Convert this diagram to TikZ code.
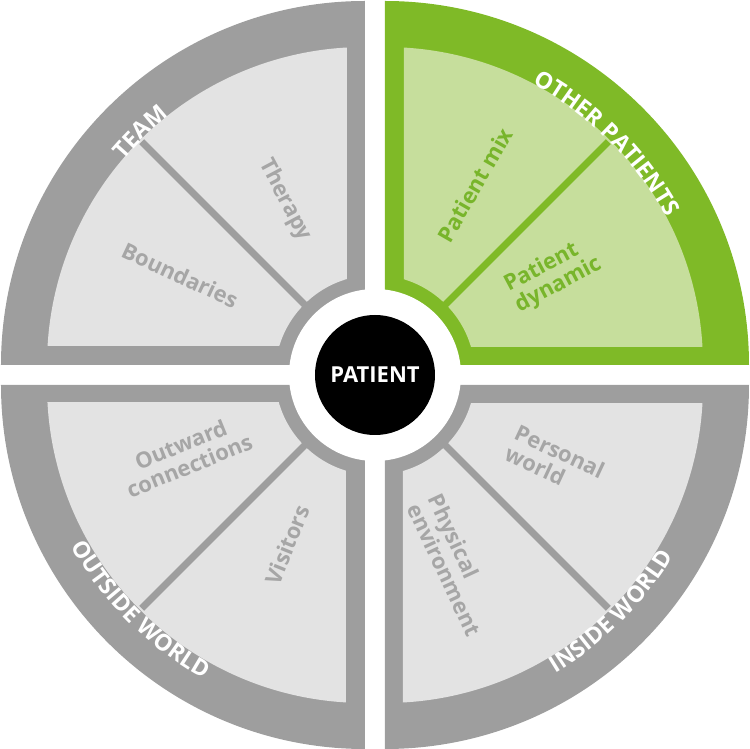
\documentclass[tikz,border=0pt]{standalone}
\usepackage{fontspec}
\setmainfont{Open Sans}
\usetikzlibrary{decorations.text}
\definecolor{gband}{HTML}{9E9E9E}
\definecolor{glight}{HTML}{E3E3E3}
\definecolor{gtext}{HTML}{A6A6A6}
\definecolor{vband}{HTML}{7FBA27}
\definecolor{vlight}{HTML}{C6DE9C}
\definecolor{vtext}{HTML}{78B52B}
\tikzset{
  inlabel/.style={font=\fontsize{22}{23}\selectfont\bfseries, align=center, inner sep=0pt},
  arclabel/.style={decorate, decoration={text along path, text align=center, text color=white,
     text={|\fontsize{23}{23}\selectfont\bfseries|#1}}}
}
\newcommand{\quadrant}[3]{%
  \begin{scope}[rotate=#1]
    \fill[#2] (10,10) -- (10,374) arc[start angle=90,end angle=0,radius=364] -- cycle;
    \begin{scope}
      \clip (29,28) rectangle (400,400);
      \fill[#3,even odd rule] (10,10) circle[radius=318] (0,0) circle[radius=100];
    \end{scope}
    \draw[#2,line width=7pt] (45:95) -- (45:330);
  \end{scope}}
\begin{document}
\begin{tikzpicture}[x=1pt,y=1pt]
\useasboundingbox (-375,-374) rectangle (375,375);
\quadrant{0}{vband}{vlight}
\quadrant{90}{gband}{glight}
\quadrant{180}{gband}{glight}
\quadrant{270}{gband}{glight}
\fill[white] (0,0) circle[radius=86];
\node[circle,fill=black,minimum size=120pt,text=white,font=\fontsize{22}{22}\selectfont\bfseries] (patient) at (0,0) {PATIENT};
% arc labels
\path[arclabel={TEAM}] (180:331) arc[start angle=180,end angle=88,radius=331];
\path[arclabel={OTHER PATIENTS}] (102:331) arc[start angle=102,end angle=-12,radius=331];
\path[arclabel={OUTSIDE WORLD}] (165:349) arc[start angle=165,end angle=285,radius=349];
\path[arclabel={INSIDE WORLD}] (255:349) arc[start angle=255,end angle=375,radius=349];
% inner labels
\node[inlabel,text=gtext,rotate=-62] (therapy) at (-90,175) {Therapy};
\node[inlabel,text=gtext,rotate=-25] (bound) at (-195,100) {Boundaries};
\node[inlabel,text=vtext,rotate=60] (pmix) at (100,190) {Patient mix};
\node[inlabel,text=vtext,rotate=28,align=left] (pdyn) at (178,100) {Patient\\dynamic};
\node[inlabel,text=gtext,rotate=22] (outw) at (-190,-80) {Outward\\connections};
\node[inlabel,text=gtext,rotate=68] (vis) at (-88,-170) {Visitors};
\node[inlabel,text=gtext,rotate=-25,align=left] (pers) at (180,-87) {Personal\\world};
\node[inlabel,text=gtext,rotate=-65,align=left] (phys) at (80,-190) {Physical\\environment};
\end{tikzpicture}
\end{document}
